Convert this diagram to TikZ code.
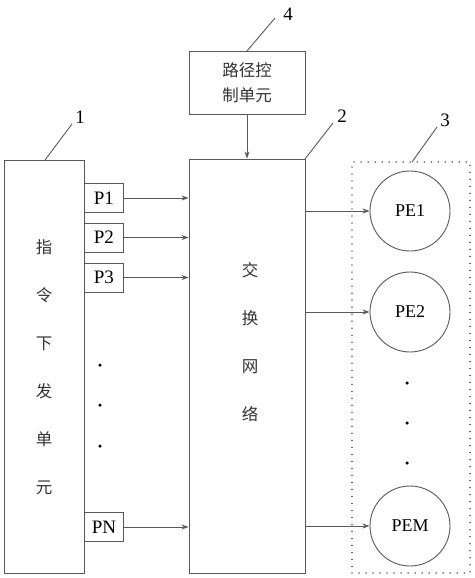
\documentclass[tikz,border=0pt]{standalone}
\usepackage{fontspec}
\setmainfont{Liberation Serif}
\newfontfamily\cjk{Noto Sans CJK SC}
\usetikzlibrary{arrows.meta}
\begin{document}
\begin{tikzpicture}[x=1pt,y=-1pt,
  ln/.style={draw=black!65,line width=0.9pt},
  box/.style={ln,rectangle,inner sep=0pt},
  pbox/.style={box,minimum width=39pt,minimum height=29pt,font=\fontsize{19}{19}\selectfont},
  pe/.style={ln,circle,minimum size=80pt,inner sep=0pt,font=\fontsize{18}{18}\selectfont},
  arr/.style={ln,-{Stealth[length=7pt,width=5pt]}},
  lbl/.style={font=\fontsize{19}{19}\selectfont,inner sep=1pt},
  cjkt/.style={font=\cjk\fontsize{16.5}{48}\selectfont,align=center,inner sep=0pt,text=black!80},
  dot/.style={circle,fill=black,inner sep=0pt,minimum size=3.5pt}]
\useasboundingbox (0,0) rectangle (474,578);
% main boxes
\node[box,minimum width=80pt,minimum height=413pt] (b1) at (44,366.5) {};
\node[box,minimum width=116pt,minimum height=414pt] (sw) at (247,366) {};
\node[box,minimum width=116pt,minimum height=63pt] (pc) at (247,82.5) {};
\node[draw=black!75,line width=1.3pt,dash pattern=on 0.01pt off 7pt,line cap=round,rectangle,inner sep=0pt,minimum width=118pt,minimum height=411pt] (grp) at (411,367.5) {};
% texts
\node[cjkt] (t1) at (44,367.5) {指\\令\\下\\发\\单\\元};
\node[cjkt] (t2) at (250,342.5) {交\\换\\网\\络};
\node[cjkt,font=\cjk\fontsize{16.5}{25}\selectfont] (t4) at (247,82.5) {路径控\\制单元};
% port boxes
\node[pbox,anchor=west] (p1) at (84,198) {P1};
\node[pbox,anchor=west] (p2) at (84,237.5) {P2};
\node[pbox,anchor=west] (p3) at (84,277.5) {P3};
\node[pbox,anchor=west] (pn) at (84,527) {PN};
% PEs
\node[pe] (pe1) at (410,211) {PE1};
\node[pe] (pe2) at (410,312) {PE2};
\node[pe] (pem) at (410,526) {PEM};
% dots
\node[dot] (d1) at (100,365) {};
\node[dot] (d2) at (100,405) {};
\node[dot] (d3) at (100,446) {};
\node[dot] (d4) at (407,383) {};
\node[dot] (d5) at (407,423) {};
\node[dot] (d6) at (407,463) {};
% arrows
\draw[arr] (p1.east) -- (p1.east -| sw.west);
\draw[arr] (p2.east) -- (p2.east -| sw.west);
\draw[arr] (p3.east) -- (p3.east -| sw.west);
\draw[arr] (pn.east) -- (pn.east -| sw.west);
\draw[arr] (pe1.west -| sw.east) -- (pe1.west);
\draw[arr] (pe2.west -| sw.east) -- (pe2.west);
\draw[arr] (pem.west -| sw.east) -- (pem.west);
\draw[arr] (pc.south) -- (sw.north);
% reference labels
\node[lbl] (n1) at (80,117) {1};
\node[lbl] (n2) at (342,116) {2};
\node[lbl] (n3) at (445,120) {3};
\node[lbl] (n4) at (288,14) {4};
\coordinate (a1) at (45,160);
\coordinate (a2) at (305,159);
\coordinate (a3) at (412,162);
\coordinate (a4) at (247,51);
\draw[ln] (a1) -- (72,124);
\draw[ln] (a2) -- (333,123);
\draw[ln] (a3) -- (437,127);
\draw[ln] (a4) -- (275,18);
\end{tikzpicture}
\end{document}
